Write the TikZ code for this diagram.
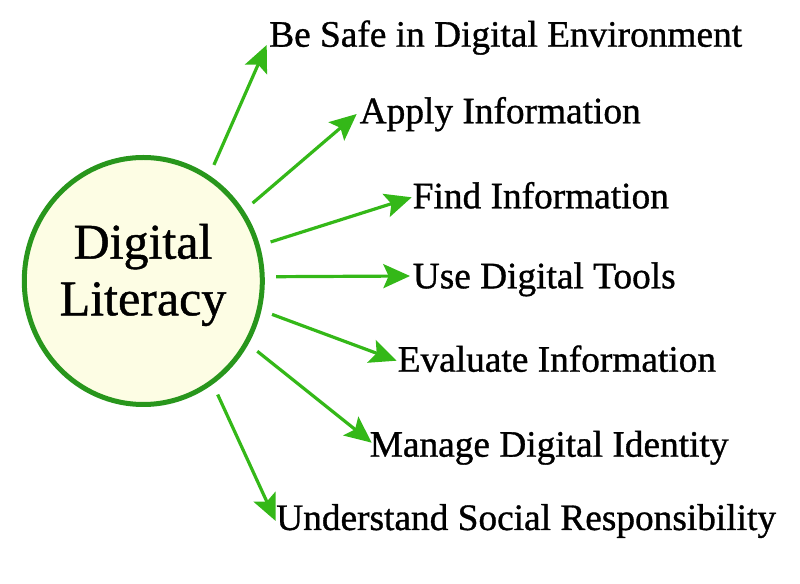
\documentclass[tikz,border=0pt]{standalone}
\usepackage{fontspec}
\setmainfont{Liberation Serif}[FakeBold=0.9]
\usetikzlibrary{arrows.meta,shapes.geometric}

\definecolor{arrowgreen}{RGB}{52,184,24}
\definecolor{ringgreen}{RGB}{40,150,28}
\definecolor{paleyellow}{RGB}{253,253,228}

\tikzset{
  ring/.style={ellipse, draw=ringgreen, fill=paleyellow, line width=3.75pt,
    minimum width=238*0.75pt, minimum height=247*0.75pt, inner sep=0pt},
  title/.style={align=center, inner sep=0pt, font=\fontsize{37.5}{42.5}\selectfont},
  lbl/.style={anchor=base west, inner sep=0pt, font=\fontsize{28}{33}\selectfont},
  arr/.style={draw=arrowgreen, line width=2.4pt, shorten <=\gap,
    -{Stealth[length=20pt 0 0, width=18pt 0, inset=4pt 0, fill=arrowgreen]}}
}

\begin{document}
\begin{tikzpicture}[x=0.75pt, y=-0.75pt]
    \def\gap{8.5pt}
    \useasboundingbox (0,0) rectangle (800,584);

    % Круг
    \node[ring] (dl) at (143.3,281) {};
    \node[title] (dltext) at (143,275) {Digital\\Literacy};

    % Концы стрелок
    \coordinate (t1) at (266.7,45);
    \coordinate (t2) at (356.7,114);
    \coordinate (t3) at (411.7,197.3);
    \coordinate (t4) at (410,276);
    \coordinate (t5) at (396.7,360.7);
    \coordinate (t6) at (371.7,442.7);
    \coordinate (t7) at (275.7,521);

    % Подписи
    \node[lbl] (safe) at (269,46.7) {Be Safe in Digital Environment};
    \node[lbl] (apply) at (359.5,123.3) {Apply Information};
    \node[lbl] (find) at (412.5,208.3) {Find Information};
    \node[lbl] (tools) at (412.5,288.3) {Use Digital Tools};
    \node[lbl] (evaluate) at (397.5,371.7) {Evaluate Information};
    \node[lbl] (manage) at (369.5,456.7) {Manage Digital Identity};
    \node[lbl] (social) at (276,530) {Understand Social Responsibility};

    % Стрелки
    \draw[arr] (dl.58.5) -- (t1);
    \draw[arr] (dl.35.4) -- (t2);
    \draw[arr] (dl.17.7) -- (t3);
    \draw[arr] (dl.2.6) -- (t4);
    \draw[arr] (dl.-14.8) -- (t5);
    \draw[arr] (dl.-31.2) -- (t6);
    \draw[arr] (dl.-56.2) -- (t7);

\end{tikzpicture}
\end{document}
